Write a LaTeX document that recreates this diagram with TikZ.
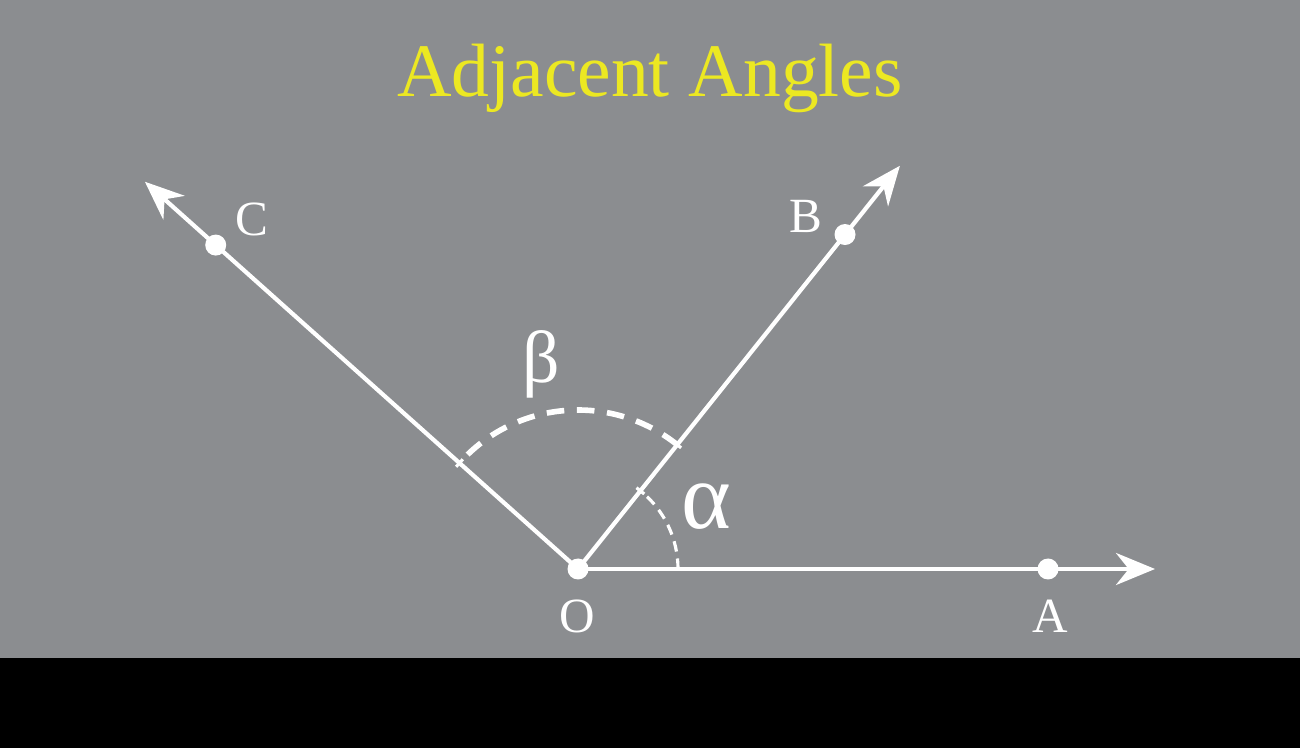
\documentclass[tikz,border=0pt]{standalone}
\usepackage{fontspec}
\setmainfont{Liberation Serif}
\usetikzlibrary{arrows.meta}
\definecolor{boardgray}{RGB}{139,141,144}
\definecolor{titleyellow}{RGB}{236,232,34}

\begin{document}
\begin{tikzpicture}[ray/.style={white,line width=1.2pt,-{Stealth[length=0.39cm,width=0.32cm]}},dot/.style={circle,fill=white,inner sep=0pt,minimum size=0.21cm},lbl/.style={white,anchor=base,font=\fontsize{14}{16}\selectfont},greek/.style={white,anchor=base,font=\fontsize{21}{24}\selectfont}]
	\fill[black] (0,0) rectangle (13,0.9);
	\fill[boardgray] (0,0.9) rectangle (13,7.48);
	\node[titleyellow,anchor=base,font=\fontsize{21.5}{26}\selectfont] (title) at (6.5,6.51) {Adjacent Angles};
	% vertex and the three rays
	\coordinate (O) at (5.78,1.79);
	\coordinate (endA) at ([shift={(0:5.77)}]O);
	\coordinate (endB) at ([shift={(51.4:5.16)}]O);
	\coordinate (endC) at ([shift={(138.2:5.81)}]O);
	\draw[ray] (O) -- (endA);
	\draw[ray] (O) -- (endB);
	\draw[ray] (O) -- (endC);
	% angle arcs
	\draw[white,line width=0.9pt,dash pattern=on 3pt off 2pt] ([shift={(0:1)}]O) arc[start angle=0,end angle=51.4,radius=1];
	\draw[white,line width=1.6pt,dash pattern=on 5pt off 3.6pt] ([shift={(51.4:1.59)}]O) arc[start angle=51.4,end angle=138.2,radius=1.59];
	\foreach \ang/\rad in {51.4/1,51.4/1.59,138.2/1.59}
		\draw[white,line width=0.9pt] ([shift={(\ang:\rad)}]O) ++(\ang+90:0.05) -- ++(\ang-90:0.1);
	% points
	\node[dot] (dotO) at (O) {};
	\node[dot] (dotA) at ([shift={(0:4.70)}]O) {};
	\node[dot] (dotB) at ([shift={(51.4:4.28)}]O) {};
	\node[dot] (dotC) at ([shift={(138.2:4.86)}]O) {};
	\node[lbl] (labO) at (5.77,1.15) {O};
	\node[lbl] (labA) at (10.50,1.15) {A};
	\node[lbl] (labB) at (8.06,5.15) {B};
	\node[lbl] (labC) at (2.52,5.12) {C};
	\node[greek,font=\fontsize{27}{30}\selectfont] (alpha) at (7.06,2.19) {α};
	\node[greek] (beta) at (5.41,3.65) {β};
\end{tikzpicture}
\end{document}
